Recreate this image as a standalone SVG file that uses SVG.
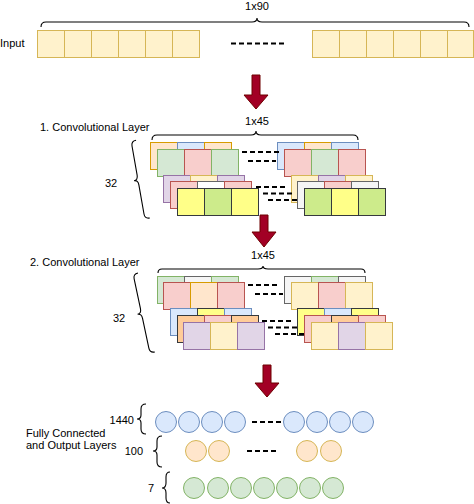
<svg xmlns="http://www.w3.org/2000/svg" width="474" height="504" viewBox="0 0 474 504">
<defs>
<style>
text{font-family:"Liberation Sans",Arial,Helvetica,sans-serif;font-size:11px;fill:#000}
.mid{text-anchor:middle}
.end{text-anchor:end}
.brace{fill:none;stroke:#000;stroke-width:1.1}
.dash{stroke:#000;stroke-width:1.8;stroke-dasharray:5 3;fill:none}
.arrow{fill:#a20025;stroke:#6f0000;stroke-width:1}
rect{stroke-width:1}
.y{fill:#fff2cc;stroke:#d6b656}
.o{fill:#ffe6cc;stroke:#d79b00}
.b{fill:#dae8fc;stroke:#6c8ebf}
.g{fill:#d5e8d4;stroke:#82b366}
.r{fill:#f8cecc;stroke:#b85450}
.p{fill:#e1d5e7;stroke:#9673a6}
.w{fill:#f5f5f5;stroke:#666666}
.sy{fill:#ffff88;stroke:#36393d}
.sg{fill:#cdeb8b;stroke:#36393d}
.so{fill:#ffcc99;stroke:#36393d}
</style>
</defs>

<g id="input">
<text class="mid" x="257" y="10">1x90</text>
<path class="brace" d="M41,27 Q41,22 46,22 L252,22 Q257,22 257,18 Q257,22 262,22 L464,22 Q469,22 469,27"/>
<text x="0" y="47">Input</text>
<g class="y">
<rect x="37.5" y="30.5" width="27" height="27"/>
<rect x="64.5" y="30.5" width="27" height="27"/>
<rect x="91.5" y="30.5" width="27" height="27"/>
<rect x="118.5" y="30.5" width="27" height="27"/>
<rect x="145.5" y="30.5" width="27" height="27"/>
<rect x="172.5" y="30.5" width="27" height="27"/>
<rect x="312.5" y="30.5" width="27" height="27"/>
<rect x="339.5" y="30.5" width="27" height="27"/>
<rect x="366.5" y="30.5" width="27" height="27"/>
<rect x="393.5" y="30.5" width="27" height="27"/>
<rect x="420.5" y="30.5" width="27" height="27"/>
<rect x="447.5" y="30.5" width="26" height="27"/>
</g>
<line class="dash" x1="231" y1="43.5" x2="285" y2="43.5"/>
</g>

<g id="conv1">
<text x="40" y="131">1. Convolutional Layer</text>
<text class="mid" x="257" y="125">1x45</text>
<path class="brace" d="M152,140 Q152,135 157,135 L251,135 Q256,135 256,131 Q256,135 261,135 L353,135 Q358,135 358,140"/>
<text x="105" y="187">32</text>
<path class="brace" transform="translate(138,180) rotate(-10)" d="M5,-39.5 Q0,-39.5 0,-34.5 L0,-5 Q0,0 -4,0 Q0,0 0,5 L0,34.5 Q0,39.5 5,39.5"/>
<g transform="translate(150.5,142.5)"><rect class="o" x="0" y="0" width="27" height="27"/><rect class="b" x="27" y="0" width="27" height="27"/><rect class="o" x="54" y="0" width="27" height="27"/></g>
<g transform="translate(157.5,149.5)"><rect class="g" x="0" y="0" width="27" height="27"/><rect class="r" x="27" y="0" width="27" height="27"/><rect class="g" x="54" y="0" width="27" height="27"/></g>
<g transform="translate(163.5,175.5)"><rect class="p" x="0" y="0" width="27" height="27"/><rect class="y" x="27" y="0" width="27" height="27"/><rect class="p" x="54" y="0" width="27" height="27"/></g>
<g transform="translate(170.5,181.5)"><rect class="r" x="0" y="0" width="27" height="27"/><rect class="w" x="27" y="0" width="27" height="27" style="fill:#ffffff"/><rect class="r" x="54" y="0" width="27" height="27"/></g>
<g transform="translate(177.5,188.5)"><rect class="sy" x="0" y="0" width="27" height="27"/><rect class="sg" x="27" y="0" width="27" height="27"/><rect class="sy" x="54" y="0" width="27" height="27"/></g>
<g transform="translate(277.5,142.5)"><rect class="b" x="0" y="0" width="27" height="27"/><rect class="o" x="27" y="0" width="27" height="27"/><rect class="b" x="54" y="0" width="27" height="27"/></g>
<g transform="translate(284.5,149.5)"><rect class="r" x="0" y="0" width="27" height="27"/><rect class="g" x="27" y="0" width="27" height="27"/><rect class="r" x="54" y="0" width="27" height="27"/></g>
<g transform="translate(291.5,175.5)"><rect class="y" x="0" y="0" width="27" height="27"/><rect class="p" x="27" y="0" width="27" height="27"/><rect class="y" x="54" y="0" width="27" height="27"/></g>
<g transform="translate(297.5,181.5)"><rect class="w" x="0" y="0" width="27" height="27"/><rect class="r" x="27" y="0" width="27" height="27"/><rect class="w" x="54" y="0" width="27" height="27"/></g>
<g transform="translate(304.5,188.5)"><rect class="sg" x="0" y="0" width="27" height="27"/><rect class="sy" x="27" y="0" width="27" height="27"/><rect class="sg" x="54" y="0" width="27" height="27"/></g>
<line class="dash" x1="242" y1="152" x2="280" y2="152"/>
<line class="dash" x1="248" y1="161" x2="276" y2="161"/>
<line class="dash" x1="256" y1="187" x2="288" y2="187"/>
<line class="dash" x1="263" y1="193.5" x2="292" y2="193.5"/>
<line class="dash" x1="268" y1="200" x2="298" y2="200"/>
</g>

<g id="conv2">
<text x="30" y="266">2. Convolutional Layer</text>
<text class="mid" x="263" y="259">1x45</text>
<path class="brace" d="M158,273 Q158,269 162,269 L258,269 Q263,269 263,266 Q263,269 268,269 L361,269 Q365,269 365,273"/>
<text x="113" y="322">32</text>
<path class="brace" transform="translate(141.5,313.5) rotate(-12)" d="M5,-40.4 Q0,-40.4 0,-35.4 L0,-5 Q0,0 -4,0 Q0,0 0,5 L0,35.4 Q0,40.4 5,40.4"/>
<g transform="translate(157.5,276.5)"><rect class="g" x="0" y="0" width="27" height="27"/><rect class="w" x="27" y="0" width="27" height="27"/><rect class="g" x="54" y="0" width="27" height="27"/></g>
<g transform="translate(163.5,282.5)"><rect class="r" x="0" y="0" width="27" height="27"/><rect class="o" x="27" y="0" width="27" height="27"/><rect class="r" x="54" y="0" width="27" height="27"/></g>
<g transform="translate(170.5,308.5)"><rect class="b" x="0" y="0" width="27" height="27"/><rect class="sy" x="27" y="0" width="27" height="27"/><rect class="b" x="54" y="0" width="27" height="27"/></g>
<g transform="translate(177.5,315.5)"><rect class="so" x="0" y="0" width="27" height="27"/><rect class="r" x="27" y="0" width="27" height="27"/><rect class="so" x="54" y="0" width="27" height="27"/></g>
<g transform="translate(183.5,322.5)"><rect class="p" x="0" y="0" width="27" height="27"/><rect class="y" x="27" y="0" width="27" height="27"/><rect class="p" x="54" y="0" width="27" height="27"/></g>
<g transform="translate(284.5,276.5)"><rect class="w" x="0" y="0" width="27" height="27"/><rect class="g" x="27" y="0" width="27" height="27"/><rect class="w" x="54" y="0" width="27" height="27"/></g>
<g transform="translate(291.5,282.5)"><rect class="y" x="0" y="0" width="27" height="27"/><rect class="r" x="27" y="0" width="27" height="27"/><rect class="y" x="54" y="0" width="27" height="27"/></g>
<g transform="translate(297.5,308.5)"><rect class="sy" x="0" y="0" width="27" height="27"/><rect class="b" x="27" y="0" width="27" height="27"/><rect class="sy" x="54" y="0" width="27" height="27"/></g>
<g transform="translate(304.5,315.5)"><rect class="r" x="0" y="0" width="27" height="27"/><rect class="so" x="27" y="0" width="27" height="27"/><rect class="r" x="54" y="0" width="27" height="27"/></g>
<g transform="translate(311.5,322.5)"><rect class="y" x="0" y="0" width="27" height="27"/><rect class="p" x="27" y="0" width="27" height="27"/><rect class="y" x="54" y="0" width="27" height="27"/></g>
<line class="dash" x1="248" y1="285" x2="279" y2="285"/>
<line class="dash" x1="255" y1="294" x2="283" y2="294"/>
<line class="dash" x1="262" y1="321" x2="293" y2="321"/>
<line class="dash" x1="268" y1="327.5" x2="298" y2="327.5"/>
<line class="dash" x1="275" y1="334" x2="304" y2="334"/>
</g>

<g id="fc">
<text x="26" y="437">Fully Connected</text>
<text x="26" y="449">and Output Layers</text>
<text class="end" x="134" y="424">1440</text>
<path class="brace" d="M146,404 Q141,404 141,409 L141,415 Q141,419 137,419 Q141,419 141,423 L141,429 Q141,434 146,434"/>
<g class="b">
<circle cx="166" cy="422" r="10.5"/><circle cx="189" cy="422" r="10.5"/><circle cx="212" cy="422" r="10.5"/><circle cx="235" cy="422" r="10.5"/>
<circle cx="294" cy="422" r="10.5"/><circle cx="317" cy="422" r="10.5"/><circle cx="340" cy="422" r="10.5"/><circle cx="363" cy="422" r="10.5"/>
</g>
<line class="dash" x1="252" y1="422" x2="281" y2="422"/>
<text class="end" x="143" y="455">100</text>
<path class="brace" d="M162,436 Q157,436 157,441 L157,447 Q157,451 153,451 Q157,451 157,455 L157,462 Q157,467 162,467"/>
<g style="fill:#ffe6cc;stroke:#d6b656">
<circle cx="196" cy="451" r="10.5"/><circle cx="219" cy="451" r="10.5"/>
<circle cx="307" cy="451" r="10.5"/><circle cx="331" cy="451" r="10.5"/>
</g>
<line class="dash" x1="247" y1="451" x2="277" y2="451"/>
<text x="148" y="492">7</text>
<path class="brace" d="M170,472 Q166,472 166,477 L166,483 Q166,488 162,488 Q166,488 166,493 L166,498 Q166,503 170,503"/>
<g class="g">
<circle cx="194" cy="488" r="10.5"/><circle cx="218" cy="488" r="10.5"/><circle cx="241" cy="488" r="10.5"/><circle cx="264" cy="488" r="10.5"/>
<circle cx="287" cy="488" r="10.5"/><circle cx="310" cy="488" r="10.5"/><circle cx="333" cy="488" r="10.5"/>
</g>
</g>

<g id="connectors">
<path class="arrow" d="M252,75 L260,75 L260,95 L268,95 L256,109 L244,95 L252,95 Z"/>
<path class="arrow" d="M260,215 L268,215 L268,232 L276,232 L264,247 L252,232 L260,232 Z"/>
<path class="arrow" d="M263,365 L271,365 L271,383 L279,383 L267,397 L255,383 L263,383 Z"/>
</g>
</svg>
